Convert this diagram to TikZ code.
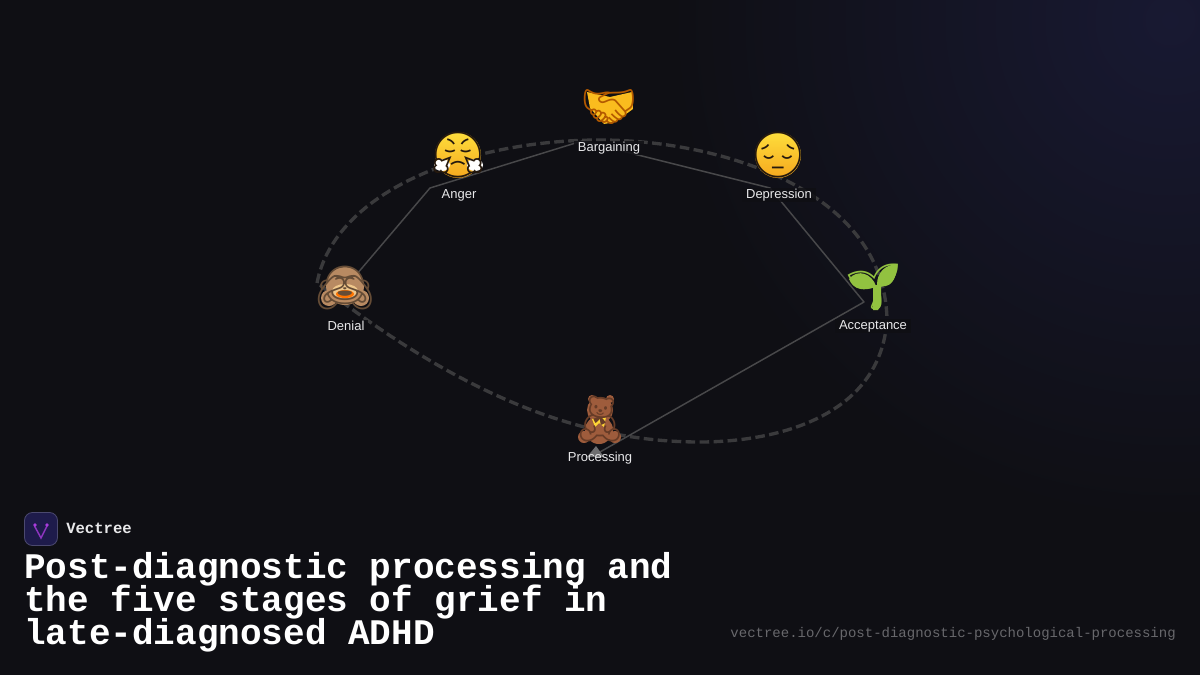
\documentclass[tikz,border=0pt]{standalone}
\usepackage{fontspec}
\setmainfont{Liberation Sans}
\setmonofont{Liberation Mono}
\newfontfamily\emojifont{Noto Emoji}
\usetikzlibrary{positioning, arrows.meta}
\definecolor{pagedark}{RGB}{15, 15, 20}
\definecolor{pageblue}{RGB}{24, 25, 50}
\definecolor{dashgrey}{RGB}{58, 58, 60}
\definecolor{linegrey}{RGB}{72, 72, 74}
\definecolor{tipgrey}{RGB}{110, 110, 112}
\definecolor{labelgrey}{RGB}{232, 232, 234}
\definecolor{urlgrey}{RGB}{104, 104, 108}
\definecolor{faceyellow}{RGB}{254, 222, 60}
\definecolor{faceorange}{RGB}{246, 168, 30}
\definecolor{handgold}{RGB}{250, 188, 30}
\definecolor{monkeybrown}{RGB}{184, 138, 98}
\definecolor{monkeylight}{RGB}{240, 200, 140}
\definecolor{bearbrown}{RGB}{158, 92, 60}
\definecolor{sproutgreen}{RGB}{146, 194, 64}
\definecolor{logoblue}{RGB}{30, 27, 75}
\definecolor{logopurple}{RGB}{168, 60, 220}
\tikzset{
    emoji/.style={font=\emojifont\fontsize{34}{34}\selectfont, inner sep=0pt, text=#1},
    stagelabel/.style={font=\fontsize{9.75}{12}\selectfont, text=labelgrey, fill=pagedark, fill opacity=0.85, text opacity=1, inner xsep=3pt, inner ysep=1pt},
    stageline/.style={linegrey, line width=1.1pt, line join=round},
    cycledash/.style={dashgrey, line width=2.5pt, dash pattern=on 7.2pt off 3.3pt}
}
\newcommand{\faceball}[2]{
\shade[top color=faceyellow, bottom color=faceorange] (#1,#2) circle (23);
}
\begin{document}
\begin{tikzpicture}[x=0.75pt, y=-0.75pt]
    \useasboundingbox (0,0) rectangle (1200,675);
    \fill[pagedark] (0,0) rectangle (1200,675);
    \begin{scope}
        \clip (0,0) rectangle (1200,675);
        \shade[inner color=pageblue, outer color=pagedark] (1170,20) circle (500);
    \end{scope}

    \draw[cycledash] (317,283) .. controls (335,190) and (470,140) .. (600,140) .. controls (720,140) and (885,190) .. (887,320) .. controls (880,420) and (770,442) .. (700,442) .. controls (600,442) and (480,410) .. (320,285);

    \coordinate (denialend) at (345,288);
    \coordinate (angerbend) at (430,188);
    \coordinate (bargainbend) at (582,141);
    \coordinate (depressionbend) at (770,188);
    \coordinate (acceptancebend) at (864,302);
    \coordinate (processingend) at (600,452);
    \draw[stageline] (denialend) -- (angerbend) -- (bargainbend) -- (depressionbend) -- (acceptancebend) -- (processingend);
    \fill[tipgrey] (596,446) -- (604,457) -- (587,457) -- cycle;

    \faceball{458}{155}
    \faceball{778}{155}
    \fill[white] (442,165) ellipse (8 and 6) (475,165) ellipse (8 and 6);
    \fill[handgold] (587,92) -- (610,97) -- (632,92) -- (633,109) -- (615,122) -- (604,124) -- (590,108) -- cycle;
    \fill[monkeybrown] (345,286) ellipse (19 and 19) (329,298) circle (8) (361,298) circle (8);
    \fill[monkeylight] (345,291) ellipse (13 and 7);
    \fill[orange!90!red] (345,294) ellipse (9 and 4);
    \fill[bearbrown] (600,410) circle (13) (592,399) circle (4) (610,399) circle (4) (599,430) ellipse (14 and 14) (584,437) circle (6) (615,437) circle (6);
    \fill[faceyellow!90!orange] (592,419) -- (606,417) -- (604,427) -- (599,423) -- (595,427) -- cycle;
    \fill[sproutgreen] (849,279) .. controls (858,268) and (872,274) .. (876,286) .. controls (865,292) and (853,290) .. (849,279) (897,264) .. controls (897,280) and (890,290) .. (877,285) .. controls (877,272) and (885,265) .. (897,264) (873,285) -- (881,285) -- (881,305) -- (878,310) -- (873,310) -- cycle;

    \node[emoji=black!80!brown] (anger) at (458,155) {😤};
    \node[emoji=black!80!brown] (depression) at (778,155) {😔};
    \node[emoji=orange!70!black] (bargaining) at (609,107) {🤝};
    \node[emoji=monkeybrown!55!black] (denial) at (345,288) {🙈};
    \node[emoji=sproutgreen] (acceptance) at (873,287) {🌱};
    \node[emoji=bearbrown!65!black] (processing) at (600,419) {🧸};

    \foreach \stage/\x/\y/\stagetext in {denial/346/326/Denial, anger/459/195/Anger, bargaining/609/148/Bargaining, depression/779/195/Depression, acceptance/873/326/Acceptance}
    {
        \node[stagelabel] (\stage label) at (\x,\y) {\stagetext};
    }
    \node[stagelabel, fill opacity=0] (processinglabel) at (600,458) {Processing};

    \draw[logoblue!60!white!50!logoblue, fill=logoblue, rounded corners=6pt, line width=0.6pt] (24.5,512.5) rectangle (57.5,545.5);
    \draw[logopurple!80!logoblue, line width=1.1pt] (34.5,526) -- (41,538) -- (47,526);
    \fill[logopurple] (35,525) circle (1.8) (47,525) circle (1.8);
    \node[anchor=base west, inner sep=0pt, text=labelgrey, font=\ttfamily\bfseries\fontsize{11.7}{12}\selectfont] (brand) at (66,533) {Vectree};
    \node[anchor=north west, inner sep=0pt, align=left, text=white, font=\ttfamily\bfseries\fontsize{27}{24.3}\selectfont] (title) at (24,552) {Post-diagnostic processing and\\[-1.6pt]the five stages of grief in\\[-1.6pt]late-diagnosed ADHD};
    \node[anchor=base east, inner sep=0pt, text=urlgrey, font=\ttfamily\fontsize{10.5}{12}\selectfont] (url) at (1176,637) {vectree.io/c/post-diagnostic-psychological-processing};
\end{tikzpicture}
\end{document}
